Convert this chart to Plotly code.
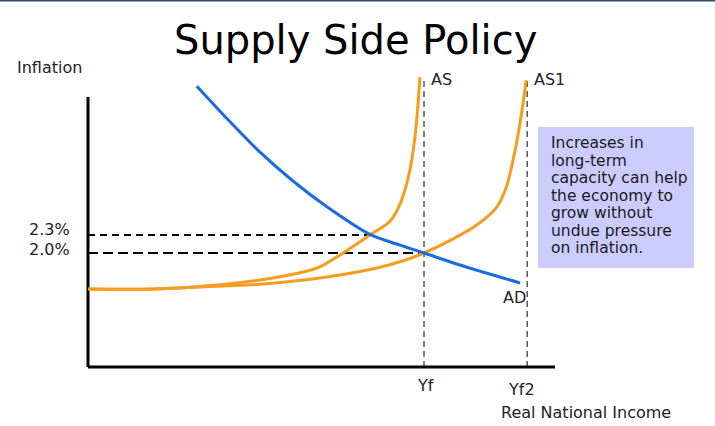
import plotly.graph_objects as go

# ---- data (x: real national income index, Yf = 100; y: inflation %) ----
as_x = [0, 19.9, 39.6, 51.2, 63.1, 69.0, 75.9, 83.9, 89.9, 92.9, 95.8, 97.3, 98.2, 98.8]
as_y = [1.40, 1.40, 1.47, 1.55, 1.67, 1.77, 2.00, 2.30, 2.53, 2.82, 3.38, 3.93, 4.47, 4.93]

as1_x = [0, 19.9, 39.6, 51.2, 71.1, 86.0, 93.8, 100, 106.8, 115.8, 121.7, 124.7, 126.5, 127.7, 129.5, 130.4]
as1_y = [1.40, 1.40, 1.45, 1.48, 1.60, 1.75, 1.87, 2.0, 2.18, 2.47, 2.77, 3.13, 3.55, 3.88, 4.50, 4.88]

ad_x = [32.4, 41.7, 51.2, 61.0, 71.1, 83.9, 92.9, 100, 110.7, 128.6]
ad_y = [4.78, 4.22, 3.68, 3.20, 2.77, 2.31, 2.13, 2.0, 1.80, 1.50]

yf = 100
yf2 = 130.7
infl_old = 2.3
infl_old_x = 83.9
infl_new = 2.0
axis_y0 = 0.1
axis_ytop = 4.6
axis_xend = 139
vline_top = 4.92

tick_labels = ["2.3%", "2.0%"]
note_lines = ["Increases in", "long-term", "capacity can help", "the economy to",
              "grow without", "undue pressure", "on inflation."]

W, H = 715, 426
PX_PER_X = 3.36
PX_PER_Y = 60.0
X0PX, Y2PX = 88, 253


def px2x(px):
    return (px - X0PX) / PX_PER_X


def py2y(py):
    return 2.0 + (Y2PX - py) / PX_PER_Y


ORANGE = "#F59D1E"
BLUE = "#1A6BE6"
FONT = "DejaVu Sans"

fig = go.Figure()
fig.add_trace(go.Scatter(x=as_x, y=as_y, mode="lines", line=dict(color=ORANGE, width=3, shape="spline", smoothing=0.8), hoverinfo="skip"))
fig.add_trace(go.Scatter(x=as1_x, y=as1_y, mode="lines", line=dict(color=ORANGE, width=3, shape="spline", smoothing=0.8), hoverinfo="skip"))
fig.add_trace(go.Scatter(x=ad_x, y=ad_y, mode="lines", line=dict(color=BLUE, width=3, shape="spline", smoothing=0.8), hoverinfo="skip"))

shapes = []
# axes
shapes.append(dict(type="line", x0=0, x1=0, y0=axis_y0, y1=axis_ytop, line=dict(color="black", width=3), layer="below"))
shapes.append(dict(type="line", x0=0, x1=axis_xend, y0=axis_y0, y1=axis_y0, line=dict(color="black", width=3), layer="below"))
# horizontal dashed
shapes.append(dict(type="line", x0=0, x1=infl_old_x, y0=infl_old, y1=infl_old, line=dict(color="black", width=2, dash="7px,5px"), layer="below"))
shapes.append(dict(type="line", x0=0, x1=yf, y0=infl_new, y1=infl_new, line=dict(color="black", width=2, dash="10px,5px"), layer="below"))
# vertical dashed
shapes.append(dict(type="line", x0=yf, x1=yf, y0=axis_y0, y1=vline_top, line=dict(color="black", width=1, dash="6px,4px"), layer="below"))
shapes.append(dict(type="line", x0=yf2, x1=yf2, y0=axis_y0, y1=vline_top, line=dict(color="black", width=1, dash="6px,4px"), layer="below"))
# text box
shapes.append(dict(type="rect", x0=px2x(538), x1=px2x(694), y0=py2y(268), y1=py2y(127), line=dict(width=0), fillcolor="#CCCCFF", layer="below"))
# top border
shapes.append(dict(type="line", xref="paper", yref="paper", x0=0, x1=1, y0=0.999, y1=0.999, line=dict(color="#2E4A6B", width=2)))

ann = []
def text(x, y, s, size=16, xanchor="center", color="#222222"):
    ann.append(dict(x=x, y=y, text=s, showarrow=False, xanchor=xanchor, yanchor="middle",
                    font=dict(family=FONT, size=size, color=color)))

ann.append(dict(xref="paper", yref="paper", x=355 / W, y=1 - 40 / H, text="Supply Side Policy",
                showarrow=False, xanchor="center", yanchor="middle",
                font=dict(family=FONT, size=40, color="black")))
text(px2x(49.5), py2y(67), "Inflation")
text(px2x(72), py2y(229), tick_labels[0], xanchor="right")
text(px2x(72), py2y(249), tick_labels[1], xanchor="right")
text(px2x(429), py2y(79), "AS", xanchor="left")
text(px2x(532), py2y(79), "AS1", xanchor="left")
text(px2x(514), py2y(297), "AD")
text(px2x(425), py2y(385), "Yf")
text(px2x(521), py2y(389), "Yf2")
text(px2x(586), py2y(412), "Real National Income")
for i, line in enumerate(note_lines):
    text(px2x(549), py2y(143 + i * 17.5), line, size=15.5, xanchor="left", color="#1a1a1a")

fig.update_layout(
    width=W, height=H,
    margin=dict(l=0, r=0, t=0, b=0),
    paper_bgcolor="white", plot_bgcolor="white",
    showlegend=False,
    xaxis=dict(range=[px2x(0), px2x(W)], visible=False, fixedrange=True),
    yaxis=dict(range=[py2y(H), py2y(0)], visible=False, fixedrange=True),
    shapes=shapes, annotations=ann,
)
fig.write_html("out.html", config={"displayModeBar": False},
               post_script="document.body.style.margin='0';document.body.style.overflow='hidden';")
